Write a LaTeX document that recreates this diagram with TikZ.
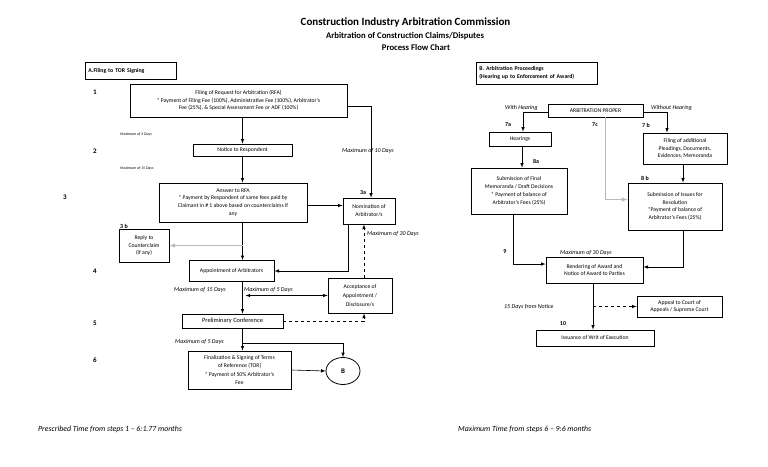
\documentclass[tikz,border=0pt]{standalone}
\usepackage{fontspec}
\setmainfont{Carlito}
\usetikzlibrary{positioning, arrows, shapes.geometric}

\tikzset{
  box/.style={draw, line width=0.8pt, align=center, inner sep=1pt, font=\fontsize{5.7}{7.8}\selectfont},
  sectionbox/.style={draw, line width=0.8pt, align=left, inner xsep=3pt, anchor=west, font=\fontsize{5.8}{7.5}\selectfont\bfseries},
  note/.style={anchor=west, inner sep=0pt, font=\fontsize{6}{7}\selectfont\itshape},
  smallnote/.style={anchor=west, inner sep=0pt, font=\fontsize{3.9}{4.5}\selectfont\itshape},
  stepno/.style={inner sep=0pt, font=\fontsize{7}{8}\selectfont\bfseries},
  substep/.style={inner sep=0pt, font=\fontsize{6}{7}\selectfont\bfseries},
  link/.style={line width=0.6pt},
  greylink/.style={line width=1pt, draw=gray!55},
  >=latex
}

\begin{document}
\begin{tikzpicture}[x=1pt, y=-1pt]
    \useasboundingbox (0,0) rectangle (768,466);

    % titles
    \node[font=\fontsize{11}{12}\selectfont\bfseries] (title) at (405.5,22) {Construction Industry Arbitration Commission};
    \node[font=\fontsize{8.7}{10}\selectfont\bfseries] (subtitle) at (405,36) {Arbitration of Construction Claims/Disputes};
    \node[font=\fontsize{8.7}{10}\selectfont\bfseries] (chart) at (416,47) {Process Flow Chart};

    % A. filing to TOR signing
    \node[sectionbox, text width=85pt, minimum height=17pt] (secA) at (85,70.5) {A.Filing to TOR Signing};

    \node[stepno] (n1) at (95,92) {1};
    \node[stepno] (n2) at (95,151) {2};
    \node[stepno] (n3) at (65,197) {3};
    \node[stepno] (n4) at (95,271) {4};
    \node[stepno] (n5) at (95,323) {5};
    \node[stepno] (n6) at (95,360) {6};

    \node[box, minimum width=217pt, minimum height=33pt] (rfa) at (238.5,100.5)
        {Filing of Request for Arbitration (RFA)\\* Payment of Filing Fee (100\%), Administrative Fee (100\%), Arbitrator's\\Fee (25\%), \& Special Assessment Fee or ADF (100\%)};
    \node[box, minimum width=99pt, minimum height=12pt] (notice) at (242.5,150) {Notice to Respondent};
    \node[box, minimum width=148pt, minimum height=39pt] (answer) at (233,202.5)
        {Answer to RFA\\* Payment by Respondent of same fees paid by\\Claimant in \# 1 above based on counterclaims if\\any};
    \node[box, minimum width=52pt, minimum height=26pt] (nom) at (369,211) {Nomination of\\Arbitrator/s};
    \node[box, minimum width=50pt, minimum height=33pt] (reply) at (144,245.5) {Reply to\\Counterclaim\\(if any)};
    \node[box, minimum width=85pt, minimum height=21pt] (appoint) at (231.5,271) {Appointment of Arbitrators};
    \node[box, minimum width=64pt, minimum height=35pt, font=\fontsize{5.7}{9}\selectfont] (accept) at (360,295.5) {Acceptance of\\Appointment /\\Disclosure/s};
    \node[box, minimum width=101pt, minimum height=14pt, font=\fontsize{6.4}{8}\selectfont] (prelim) at (232.5,321) {Preliminary Conference};
    \node[box, minimum width=103pt, minimum height=38pt, font=\fontsize{5.7}{8.2}\selectfont] (final) at (239.5,370)
        {Finalization \& Signing of Terms\\of Reference (TOR)\\* Payment of 50\% Arbitrator's\\Fee};
    \node[ellipse, draw, line width=0.8pt, minimum width=34pt, minimum height=27pt, font=\fontsize{7}{8}\selectfont\bfseries] (B) at (343,371) {B};

    \node[substep] (s3a) at (363,193) {3a};
    \node[substep] (s3b) at (124,226) {3 b};

    \node[smallnote] (t1) at (120,134) {Maximum of 3 Days};
    \node[smallnote] (t2) at (120,168) {Maximum of 15 Days};
    \node[note] (t3) at (342,151) {Maximum of 10 Days};
    \node[note] (t4) at (367,234) {Maximum of 30 Days};
    \node[note] (t5) at (174,290) {Maximum of 15 Days};
    \node[note] (t6) at (244,290) {Maximum of 5 Days};
    \node[note] (t7) at (175,342) {Maximum of 5 Days};

    \coordinate (split) at (242.5,343);

    \draw[link, ->] (rfa.south -| notice.north) -- (notice.north);
    \draw[link, ->] ([yshift=-6pt]rfa.east) -| ([xshift=2pt]nom.north);
    \draw[link, ->] (notice.south) -- (notice.south |- answer.north);
    \draw[link, ->] ([yshift=-3pt]answer.east) -- ([yshift=-3pt]answer.east -| nom.west);
    \draw[link, ->] (notice.south |- answer.south) -- (notice.south |- appoint.north);
    \draw[greylink, ->] (notice.south |- reply.east) -- (reply.east);
    \draw[link, ->] ([xshift=-21pt]nom.south) |- (appoint.east);
    \draw[link, ->, dashed] ([xshift=4pt]accept.north) -- ([xshift=4pt]accept.north |- nom.south);
    \draw[link, ->] (notice.south |- appoint.south) -- (notice.south |- prelim.north);
    \draw[link, <->] ([xshift=3pt]notice.south |- accept.west) -- (accept.west);
    \draw[link, ->, dashed] (prelim.east) -| ([xshift=4pt]accept.south);
    \draw[link, ->] (notice.south |- prelim.south) -- (notice.south |- final.north);
    \draw[link, ->] (split) -| (B.north);
    \draw[link, ->] (final.east) -- (B.west);

    % B. arbitration proceedings
    \node[sectionbox, text width=115pt, minimum height=22pt] (secB) at (476,73) {B. Arbitration Proceedings\\(Hearing up to Enforcement of Award)};

    \node[box, minimum width=95pt, minimum height=13pt] (proper) at (595.5,110.5) {ARBITRATION PROPER};
    \node[box, minimum width=62pt, minimum height=14pt] (hear) at (520,139) {Hearings};
    \node[box, minimum width=84pt, minimum height=31pt] (addl) at (685,148.5) {Filing of additional\\Pleadings, Documents,\\Evidences, Memoranda};
    \node[box, minimum width=96pt, minimum height=46pt] (subfin) at (519,191)
        {Submission of Final\\Memoranda / Draft Decisions\\* Payment of balance of\\Arbitrator's Fees (25\%)};
    \node[box, minimum width=94pt, minimum height=47pt] (subiss) at (675,206.5)
        {Submission of Issues for\\Resolution\\*Payment of balance of\\Arbitrator's Fees (25\%)};
    \node[box, minimum width=97pt, minimum height=26pt] (render) at (594.5,270) {Rendering of Award and\\Notice of Award to Parties};
    \node[box, minimum width=85pt, minimum height=21pt] (appeal) at (679.5,306.5) {Appeal to Court of\\Appeals / Supreme Court};
    \node[box, minimum width=118pt, minimum height=16pt] (writ) at (595,338) {Issuance of Writ of Execution};

    \node[substep] (s7a) at (508,125) {7a};
    \node[substep] (s7c) at (595,125) {7c};
    \node[substep] (s7b) at (646,125) {7 b};
    \node[substep] (s8a) at (536,161) {8a};
    \node[substep] (s8b) at (645,178) {8 b};
    \node[substep] (s9) at (505,252) {9};
    \node[substep] (s10) at (563,324) {10};

    \node[note] (t8) at (505,108) {With Hearing};
    \node[note] (t9) at (651,108) {Without Hearing};
    \node[note] (t10) at (560,253) {Maximum of 30 Days};
    \node[note] (t11) at (504,307) {15 Days from Notice};

    \draw[link, ->] ([yshift=-1.5pt]proper.west) -| ([xshift=3pt]hear.north);
    \draw[link, ->] ([yshift=-1.5pt]proper.east) -| ([xshift=-18pt]addl.north);
    \draw[greylink, ->] ([xshift=9.5pt]proper.south) |- ([yshift=7pt]subiss.west);
    \draw[link, ->] ([xshift=2pt]hear.south) -- ([xshift=2pt]hear.south |- subfin.north);
    \draw[link, ->] ([xshift=-2pt]addl.south) -- ([xshift=-2pt]addl.south |- subiss.north);
    \draw[link, ->] ([xshift=-6pt]subfin.south) |- ([yshift=6pt]render.west);
    \draw[link, ->] ([xshift=8pt]subiss.south) |- ([yshift=3pt]render.east);
    \draw[link, ->] ([xshift=-1.5pt]render.south) -- ([xshift=-1.5pt]render.south |- writ.north);
    \draw[link, ->, dashed] ([xshift=-1.5pt]render.south |- appeal.west) -- (appeal.west);

    % bottom notes
    \node[anchor=west, inner sep=0pt, font=\fontsize{7.8}{9}\selectfont\itshape] (sumA) at (38,429) {Prescribed Time from steps 1 -- 6:1.77 months};
    \node[anchor=west, inner sep=0pt, font=\fontsize{7.8}{9}\selectfont\itshape] (sumB) at (458,429) {Maximum Time from steps 6 -- 9:6 months};
\end{tikzpicture}
\end{document}
